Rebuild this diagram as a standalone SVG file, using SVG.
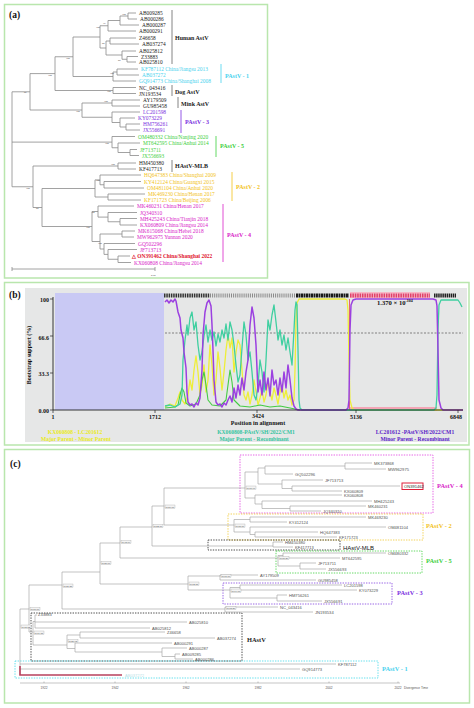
<svg xmlns="http://www.w3.org/2000/svg" width="474" height="708" viewBox="0 0 474 708">
<style>
.panel{fill:#fff;stroke:#b9e6ad;stroke-width:1.5}
.pl{font-family:"Liberation Serif",serif;font-weight:bold;font-size:9.5px;fill:#111}
.tr{fill:none;stroke:#8a8a8a;stroke-width:0.8}
.lf{font-family:"Liberation Serif",serif;font-size:5.4px;fill:#222}
.gl{font-family:"Liberation Serif",serif;font-weight:bold;font-size:6px}
.bs{font-family:"Liberation Serif",serif;font-size:2.6px;fill:#444}
.bt{font-family:"Liberation Serif",serif;font-weight:bold;font-size:6px;fill:#111}
.lg{font-family:"Liberation Serif",serif;font-weight:bold;font-size:5.6px;text-anchor:middle}
.ct{fill:none;stroke:#9a9a9a;stroke-width:0.6}
.cl{font-family:"Liberation Sans",sans-serif;font-size:4.1px;fill:#555}
.nb{fill:#f4f4f4;stroke:#999;stroke-width:0.3}
.nt{font-family:"Liberation Sans",sans-serif;font-size:2.4px;fill:#555}
.db{fill:none;stroke-width:0.8;stroke-dasharray:1.4 1.2}
.cg{font-family:"Liberation Serif",serif;font-weight:bold;font-size:6.4px}
</style>
<rect width="474" height="708" fill="#fff"/>

<!-- ================= PANEL A ================= -->
<g id="panel-a">
<rect class="panel" x="4.5" y="4.5" width="263" height="273.5"/>
<text class="pl" x="9" y="18">(a)</text>
</g>
<g id="tree-a-connectors">
<path class="tr" d="M128 13V19M128 13H136M128 19H137
M120 16V25M120 16H128M120 25H139
M108 20.5V31M108 20.5H120M108 31H136
M110 38V44M110 38H136M110 44H139
M127 56.5V62M127 56.5H138M127 62H136
M122 51V59.25M122 51H136M122 59.25H127
M106 41V55M106 41H110M106 55H122
M100 25.75V48M100 25.75H108M100 48H106
M117 69V75M117 69H138M117 75H139
M113 72V81M113 72H117M113 81H136
M73 37V76.5M73 37H100M73 76.5H113
M113 87.5V93.5M113 87.5H136M113 93.5H136
M55 56.75V90.5M55 56.75H73M55 90.5H113
M112 100V106M112 100H140M112 106H140
M126 124V130M126 124H140M126 130H140
M120 118V127M120 118H135M120 127H126
M112 112V122.5M112 112H140M112 122.5H120
M82 103V117.25M82 103H112M82 117.25H112
M30 73.6V110M30 73.6H55M30 110H82
M130 149.5V155.5M130 149.5H137M130 155.5H139
M118 143V152.5M118 143H140M118 152.5H130
M112 136.5V147.75M112 136.5H135M112 147.75H118
M118 163V169M118 163H136M118 169H136
M104 181.5V188M104 181.5H141M104 188H144
M100 175V184.75M100 175H141M100 184.75H104
M108 194V200M108 194H145M108 200H141
M95 179.9V197M95 179.9H100M95 197H108
M120 218.5V225M120 218.5H137M120 225H137
M108 212.5V221.75M108 212.5H137M108 221.75H120
M98 206V217.1M98 206H134M98 217.1H108
M122 231V237M122 231H135M122 237H134
M118 256V262.5M118 256H130M118 262.5H131
M108 249.5V259.25M108 249.5H137M108 259.25H118
M104 243.5V254.4M104 243.5H135M104 254.4H108
M100 234V249M100 234H122M100 249H104
M92 211.5V241.5M92 211.5H98M92 241.5H100
M42 188.5V226.5M42 188.5H95M42 226.5H92
M33 166V207.5M33 166H118M33 207.5H42
M12 91.8V186.75M12 91.8H30M12 142.1H112M12 186.75H33"/>
<path class="tr" d="M12 269H155M12 267V271M155 267V271"/>
</g>
<g id="tree-a-bootstrap">
<text class="bs" x="122" y="15">100</text><text class="bs" x="103" y="24">76</text><text class="bs" x="96" y="28">100</text>
<text class="bs" x="102" y="44">99</text><text class="bs" x="118" y="61">98</text><text class="bs" x="66" y="59">100</text>
<text class="bs" x="110" y="74">100</text><text class="bs" x="48" y="76">100</text><text class="bs" x="107" y="92">100</text>
<text class="bs" x="24" y="93">86</text><text class="bs" x="104" y="102">100</text><text class="bs" x="76" y="112">100</text>
<text class="bs" x="105" y="144">100</text><text class="bs" x="111" y="165">100</text><text class="bs" x="26" y="189">100</text>
<text class="bs" x="96" y="181">100</text><text class="bs" x="36" y="209">99</text><text class="bs" x="86" y="228">100</text>
<text class="bs" x="92" y="213">94</text><text class="bs" x="98" y="244">100</text>
<text class="bs" x="151" y="276">0.50</text>
</g>
<g id="leaves-a">
<text class="lf" x="139" y="15">AB009285</text>
<text class="lf" x="140" y="21">AB000286</text>
<text class="lf" x="142" y="27">AB000287</text>
<text class="lf" x="139" y="33">AB000291</text>
<text class="lf" x="139" y="40">Z46658</text>
<text class="lf" x="142" y="46">AB037274</text>
<text class="lf" x="139" y="53">AB025812</text>
<text class="lf" x="141" y="58.5">Z33883</text>
<text class="lf" x="139" y="64">AB025810</text>
<g fill="#48d2ee"><text class="lf" style="fill:#48d2ee" x="141" y="71">KF787112 China/Jiangsu 2013</text>
<text class="lf" style="fill:#48d2ee" x="142" y="77">AB037272</text>
<text class="lf" style="fill:#48d2ee" x="139" y="83">GQ914773 China/Shanghai 2008</text></g>
<text class="lf" x="139" y="89.5">NC_043416</text>
<text class="lf" x="139" y="95.5">JN193534</text>
<text class="lf" x="143" y="102">AY179509</text>
<text class="lf" x="143" y="108">GU985458</text>
<text class="lf" style="fill:#7a2ee0" x="143" y="114">LC201598</text>
<text class="lf" style="fill:#7a2ee0" x="138" y="120">KY073229</text>
<text class="lf" style="fill:#7a2ee0" x="143" y="126">HM756261</text>
<text class="lf" style="fill:#7a2ee0" x="143" y="132">JX556691</text>
<text class="lf" style="fill:#3ccf3c" x="138" y="138.5">OM480332 China/Nanjing 2020</text>
<text class="lf" style="fill:#3ccf3c" x="143" y="145">MT642595 China/Anhui 2014</text>
<text class="lf" style="fill:#3ccf3c" x="140" y="151.5">JF713711</text>
<text class="lf" style="fill:#3ccf3c" x="142" y="157.5">JX556693</text>
<text class="lf" x="139" y="165">HM450380</text>
<text class="lf" x="139" y="171">KF417713</text>
<text class="lf" style="fill:#f2c21a" x="144" y="177">HQ647383 China/Shanghai 2009</text>
<text class="lf" style="fill:#f2c21a" x="144" y="183.5">KY412124 China/Guangxi 2015</text>
<text class="lf" style="fill:#f2c21a" x="147" y="190">OM481104 China/Anhui 2020</text>
<text class="lf" style="fill:#f2c21a" x="148" y="196">MK469230 China/Henan 2017</text>
<text class="lf" style="fill:#f2c21a" x="144" y="202">KF171723 China/Beijing 2006</text>
<text class="lf" style="fill:#d822c8" x="137" y="208">MK460231 China/Henan 2017</text>
<text class="lf" style="fill:#d822c8" x="140" y="214.5">JQ340310</text>
<text class="lf" style="fill:#d822c8" x="140" y="220.5">MH425243 China/Tianjin 2018</text>
<text class="lf" style="fill:#d822c8" x="140" y="227">KX060809 China/Jiangsu 2014</text>
<text class="lf" style="fill:#d822c8" x="138" y="233">MK615068 China/Hebei 2018</text>
<text class="lf" style="fill:#d822c8" x="137" y="239">MW962975 Yunnan 2020</text>
<text class="lf" style="fill:#d822c8" x="138" y="245.5">GQ502296</text>
<text class="lf" style="fill:#d822c8" x="140" y="251.5">JF713713</text>
<text class="lf" style="fill:#e0102a;font-weight:bold" x="132" y="258">△ ON391462 China/Shanghai 2022</text>
<text class="lf" style="fill:#d822c8" x="134" y="264.5">KX060808 China/Jiangsu 2014</text>
</g>
<g id="groups-a">
<path d="M172 10V64M172 85V96M178 97V108M172 160V172" stroke="#666" stroke-width="0.8"/>
<path d="M221 64V83" stroke="#48d2ee" stroke-width="0.8"/>
<path d="M181 110V133" stroke="#7a2ee0" stroke-width="0.8"/>
<path d="M216 136V157" stroke="#3ccf3c" stroke-width="0.8"/>
<path d="M232 172V201" stroke="#f2c21a" stroke-width="0.8"/>
<path d="M223 204V262" stroke="#d822c8" stroke-width="0.8"/>
<text class="gl" x="175" y="40" fill="#222">Human AstV</text>
<text class="gl" x="225" y="77.5" fill="#48d2ee">PAstV - 1</text>
<text class="gl" x="175" y="94" fill="#222">Dog AstV</text>
<text class="gl" x="181" y="106" fill="#222">Mink AstV</text>
<text class="gl" x="185" y="124" fill="#7a2ee0">PAstV - 3</text>
<text class="gl" x="220" y="148" fill="#3ccf3c">PAstV - 5</text>
<text class="gl" x="175" y="167.5" fill="#222">HAstV-MLB</text>
<text class="gl" x="236" y="189" fill="#f2c21a">PAstV - 2</text>
<text class="gl" x="227" y="237" fill="#d822c8">PAstV - 4</text>
</g>

<!-- ================= PANEL B ================= -->
<g id="panel-b">
<rect class="panel" x="4.5" y="282.5" width="464.5" height="162.5"/>
<rect x="25" y="288" width="442" height="154" fill="#e6e7e7"/>
<text class="pl" x="9" y="298">(b)</text>
<rect x="55" y="293" width="109" height="117" fill="#c9c9f4"/>
<rect x="350" y="407" width="87" height="4" fill="#f4a6b6"/>
<rect x="350" y="292" width="80" height="6" fill="#f6b8c6"/>
<path d="M164 295.5H210" stroke="#333" stroke-width="4" stroke-dasharray="1.5 0.8"/>
<path d="M210 295.5H296" stroke="#8a8a8a" stroke-width="4" stroke-dasharray="1 1.1"/>
<path d="M296 295.5H349" stroke="#1a1a1a" stroke-width="4" stroke-dasharray="2 0.5"/>
<path d="M350 295.5H430" stroke="#e0406a" stroke-width="4" stroke-dasharray="1.5 0.9"/>
<path d="M434 295.5H456" stroke="#222" stroke-width="4" stroke-dasharray="1.5 0.6"/>
<path d="M165 333H463" stroke="#555" stroke-width="0.7" stroke-dasharray="2 1.5"/>
<path d="M349.5 299V410" stroke="#e04060" stroke-width="0.8"/>
</g>
<g id="curves-b" fill="none" stroke-linejoin="round">
<polyline stroke="#eeee38" stroke-width="1.3" points="165,407 170,404 175,406 178,398 180,392 182,400 185,404 188,395 190,380 192,390 194,370 196,356 198,372 200,395 202,385 204,365 206,392 208,380 210,345 212,365 214,395 216,380 218,352 220,368 222,390 224,372 226,350 228,335 230,348 232,338 234,372 236,352 238,340 240,345 242,370 244,395 246,400 248,392 250,404 252,395 254,380 256,392 258,405 260,398 262,390 264,402 266,395 268,380 270,392 272,400 274,388 276,395 278,404 280,392 282,385 284,398 286,390 288,400 290,395 292,405 294,400 295,370 296,320 297,303 299,299 345,299 347,300 348,310 349,360 350,400 352,408 354,410 463,410"/>
<polyline stroke="#44cc44" stroke-width="1.1" points="165,408 175,407 178,405 180,395 182,388 184,392 186,403 190,406 196,404 200,395 202,380 204,372 206,385 208,400 212,405 220,406 226,400 228,385 230,370 232,382 234,400 240,406 250,407 260,405 270,407 280,406 290,408 300,410"/>
<polyline stroke="#3fcfa0" stroke-width="1.3" points="165,406 170,405 175,407 180,404 182,395 183,360 185,340 187,325 188,335 190,318 192,312 194,330 196,322 198,345 200,360 202,352 204,336 206,325 208,342 210,330 212,340 214,332 216,346 218,334 220,342 222,330 224,338 226,324 228,340 230,322 232,330 234,345 236,365 238,382 240,375 242,348 244,322 246,335 248,360 250,352 252,372 254,395 256,400 258,385 260,360 262,372 264,392 266,360 268,320 270,330 272,315 274,305 276,322 278,340 280,330 282,345 284,335 286,350 288,338 290,352 292,365 294,330 295,310 296,302 297,305 298,350 299,400 300,408 302,410 434,410 436,408 437,395 438,330 439,305 441,300 458,300 460,303 462,307"/>
<polyline stroke="#9b40e0" stroke-width="1.5" points="165,302 167,300 169,303 171,300 173,302 175,299 176,301 178,312 180,318 181,330 183,338 184,352 186,368 187,392 188,402 190,405 192,404 194,407 196,403 198,405 200,398 202,370 203,335 205,312 207,303 209,300 211,306 212,325 213,350 214,380 216,402 218,405 220,404 222,407 224,403 226,405 228,400 230,396 232,402 234,388 236,398 238,385 240,395 242,378 244,390 246,372 248,360 250,325 252,307 254,318 256,345 258,392 260,380 262,395 264,372 266,390 268,378 270,396 272,370 274,385 276,380 278,395 280,378 282,392 284,372 286,388 288,365 290,380 292,398 294,406 296,409 298,410 346,410 348,408 349,400 350,330 351,305 353,300 356,299 433,299 436,300 437,306 438,350 439,400 441,408 443,410 463,410"/>
</g>
<g id="axes-b">
<path d="M53 297V410H463" fill="none" stroke="#222" stroke-width="0.9"/>
<path d="M50 299H53M50 336H53M50 373H53M50 410H53M53 410V413M155 410V413M257 410V413M356 410V413M458 410V413" stroke="#222" stroke-width="0.7"/>
<text class="bt" x="49" y="301.5" text-anchor="end">100</text>
<text class="bt" x="49" y="340" text-anchor="end">66.6</text>
<text class="bt" x="49" y="375.5" text-anchor="end">33.3</text>
<text class="bt" x="49" y="412.5" text-anchor="end">0.00</text>
<text class="bt" x="31" y="355" text-anchor="middle" transform="rotate(-90 31 355)">Bootstrap support (%)</text>
<text class="bt" x="53" y="419" text-anchor="middle">1</text>
<text class="bt" x="155" y="419" text-anchor="middle">1712</text>
<text class="bt" x="258" y="418" text-anchor="middle">3424</text>
<text class="bt" x="356" y="419" text-anchor="middle">5136</text>
<text class="bt" x="456" y="419" text-anchor="middle">6848</text>
<text class="bt" x="258" y="424.5" text-anchor="middle">Position in alignment</text>
<text class="bt" x="377" y="304.5" style="font-size:6.6px">1.370 × 10<tspan dy="-2.5" style="font-size:4px">-104</tspan></text>
</g>
<g id="legend-b">
<text class="lg" x="75" y="434" fill="#eaea20">KX060808 - LC201612</text>
<text class="lg" x="76" y="441" fill="#eaea20">Major Parent - Minor Parent</text>
<text class="lg" x="256" y="434" fill="#34c4a0">KX060808-PAstV/SH/2022/CM1</text>
<text class="lg" x="254" y="441" fill="#34c4a0">Major Parent - Recombinant</text>
<text class="lg" x="415" y="434" fill="#5a22c8">LC201612 -PAstV/SH/2022/CM1</text>
<text class="lg" x="415" y="441" fill="#5a22c8">Minor Parent - Recombinant</text>
</g>

<!-- ================= PANEL C ================= -->
<g id="panel-c">
<rect class="panel" x="4.5" y="449.5" width="465" height="253.5"/>
<text class="pl" x="10" y="467">(c)</text>
</g>
<g id="boxes-c">
<rect class="db" x="240" y="455" width="193" height="58" stroke="#e040e0"/>
<rect class="db" x="228" y="514" width="195" height="26" stroke="#f0c830"/>
<rect class="db" x="208" y="540" width="132" height="10" stroke="#222"/>
<rect class="db" x="276" y="551" width="146" height="22" stroke="#40d040"/>
<rect class="db" x="223" y="583" width="169" height="21" stroke="#8040e0"/>
<rect class="db" x="31" y="613" width="211" height="48" stroke="#222"/>
<rect class="db" x="15" y="661" width="363" height="17" stroke="#40d8e8"/>
<rect x="402" y="483" width="21" height="6.5" fill="none" stroke="#e0203a" stroke-width="1"/>
</g>
<g id="tree-c-connectors">
<path class="ct" d="M20 609V675M20 609H29M20 664H336M20 669H300
M29 585V632M29 585H62M29 632H33
M62 572V609M62 572H100M62 609H225
M100 543V584M100 543H120M100 584H188
M120 527V558M120 527H152M120 558H278
M152 506V546M152 506H164M152 546H273
M164 488V525M164 488H245M164 525H234
M245 472V498M245 472H258M258 468V484M258 468H265M265 466V474M265 466H345M345 463V469M345 463H372M345 469H386M265 474H293
M258 484H282M282 480V488.5M282 480H323M282 488.5H292M292 486V491M292 486H400M292 491H342
M245 498H255M255 495V504M255 495H342M255 504H262M262 501V508.5M262 501H372M262 508.5H290M290 506V511M290 506H366M290 511H321
M234 519.5V532M234 519.5H250M250 517V522M250 517H366M250 522H287M234 532H250M250 527V534.5M250 527H386M250 534.5H255M255 532V537M255 532H318M255 537H337
M273 542V547M273 542H283M273 547H293
M278 555.5V566M278 555.5H283M283 553V558M283 553H386M283 558H340M278 566H300M300 563V569M300 563H316M300 569H326
M188 576V590M188 576H220M188 590H230M220 575V580M220 575H258M220 580H316
M230 587.5V598M230 587.5H240M240 585V590M240 585H342M240 590H357M230 598H277M277 595V601M277 595H287M277 601H322
M225 607V612M225 607H278M225 612H313
M33 621.5V645M33 621.5H35M35 615V628M35 615H37M35 622H187M35 628H150M33 645H67
M67 635V648.5M67 635H80M67 648.5H75M80 632V638M80 632H165M80 638H215
M75 643V652M75 643H172M75 652H162M162 648V656.5M162 648H187M162 656.5H175M175 654V659M175 654H180M175 659H193"/>
<path d="M20 666V675H122" fill="none" stroke="#b8425e" stroke-width="1.6"/>
</g>
<g id="node-ages-c">
<rect class="nb" x="21" y="625" width="10" height="3.2"/><text class="nt" x="21.5" y="627.5">1915.52</text>
<rect class="nb" x="30" y="607.5" width="10" height="3.2"/><text class="nt" x="30.5" y="610">1918.06</text>
<rect class="nb" x="63" y="584" width="10" height="3.2"/><text class="nt" x="63.5" y="586.5">1927.35</text>
<rect class="nb" x="101" y="561.5" width="10" height="3.2"/><text class="nt" x="101.5" y="564">1938.06</text>
<rect class="nb" x="121" y="540.5" width="10" height="3.2"/><text class="nt" x="121.5" y="543">1943.69</text>
<rect class="nb" x="153" y="524.5" width="10" height="3.2"/><text class="nt" x="153.5" y="527">1952.70</text>
<rect class="nb" x="165" y="505" width="10" height="3.2"/><text class="nt" x="165.5" y="507.5">1956.08</text>
<rect class="nb" x="246" y="486" width="10" height="3.2"/><text class="nt" x="246.5" y="488.5">1978.90</text>
<rect class="nb" x="235" y="524" width="10" height="3.2"/><text class="nt" x="235.5" y="526.5">1975.80</text>
<rect class="nb" x="279" y="556.5" width="10" height="3.2"/><text class="nt" x="279.5" y="559">1988.20</text>
<rect class="nb" x="189" y="582" width="10" height="3.2"/><text class="nt" x="189.5" y="584.5">1962.85</text>
<rect class="nb" x="221" y="574.5" width="10" height="3.2"/><text class="nt" x="221.5" y="577">1971.86</text>
<rect class="nb" x="231" y="589" width="10" height="3.2"/><text class="nt" x="231.5" y="591.5">1974.68</text>
<rect class="nb" x="226" y="606.5" width="10" height="3.2"/><text class="nt" x="226.5" y="609">1973.27</text>
<rect class="nb" x="34" y="631" width="10" height="3.2"/><text class="nt" x="34.5" y="633.5">1919.15</text>
<rect class="nb" x="68" y="639.5" width="10" height="3.2"/><text class="nt" x="68.5" y="642">1928.93</text>
</g>
<g id="leaves-c">
<text class="cl" x="374" y="464.5">MK373868</text>
<text class="cl" x="388" y="470.5">MW962975</text>
<text class="cl" x="295" y="475.5">GQ502296</text>
<text class="cl" x="325" y="481.5">JF713713</text>
<text class="cl" x="404" y="487.5" style="fill:#333">ON391462</text>
<text class="cl" x="344" y="492.5">KX060809</text>
<text class="cl" x="344" y="496.5">KX060808</text>
<text class="cl" x="374" y="502.5">MH425243</text>
<text class="cl" x="368" y="507.5">MK460231</text>
<text class="cl" x="323" y="512.5">JQ340310</text>
<text class="cl" x="368" y="518.5">MK469230</text>
<text class="cl" x="289" y="523.5">KY412124</text>
<text class="cl" x="388" y="528.5">OM481104</text>
<text class="cl" x="320" y="533.5">HQ647383</text>
<text class="cl" x="339" y="538.5">KF171723</text>
<text class="cl" x="285" y="543.5">HM450380</text>
<text class="cl" x="295" y="548.5">KF417713</text>
<text class="cl" x="388" y="554.5">OM480332</text>
<text class="cl" x="342" y="559.5">MT642595</text>
<text class="cl" x="318" y="564.5">JF713711</text>
<text class="cl" x="328" y="570.5">JX556693</text>
<text class="cl" x="260" y="576.5">AY179509</text>
<text class="cl" x="318" y="581.5">GU985458</text>
<text class="cl" x="344" y="586.5">LC201598</text>
<text class="cl" x="359" y="591.5">KY073229</text>
<text class="cl" x="289" y="596.5">HM756261</text>
<text class="cl" x="324" y="602.5">JX556691</text>
<text class="cl" x="280" y="608.5">NC_043416</text>
<text class="cl" x="315" y="613.5">JN193534</text>
<text class="cl" x="38" y="616">Z33883</text>
<text class="cl" x="189" y="623.5">AB025810</text>
<text class="cl" x="152" y="629.5">AB025812</text>
<text class="cl" x="167" y="633.5">Z46658</text>
<text class="cl" x="217" y="639.5">AB037274</text>
<text class="cl" x="174" y="644.5">AB000291</text>
<text class="cl" x="189" y="649.5">AB000287</text>
<text class="cl" x="182" y="655.5">AB009285</text>
<text class="cl" x="195" y="660.5">AB000286</text>
<text class="cl" x="338" y="665.5">KF787112</text>
<text class="cl" x="302" y="670.5">GQ914773</text>
<text class="cl" x="125" y="676.5" style="fill:#b8dfe8">AB037272</text>
</g>
<g id="groups-c">
<text class="cg" x="437" y="488" fill="#d822c8">PAstV - 4</text>
<text class="cg" x="426" y="528" fill="#f2c21a">PAstV - 2</text>
<text x="343" y="549.5" style="font-family:'Liberation Sans',sans-serif;font-size:6px;fill:#111">HAstV-MLB</text>
<text class="cg" x="426" y="563" fill="#3ccf3c">PAstV - 5</text>
<text class="cg" x="397" y="595" fill="#7a2ee0">PAstV - 3</text>
<text class="cg" x="247" y="642" fill="#222">HAstV</text>
<text class="cg" x="382" y="671" fill="#48d2ee">PAstV - 1</text>
</g>
<g id="axis-c">
<path d="M20 683H400M44 681.5V683M115 681.5V683M186 681.5V683M258 681.5V683M329 681.5V683M398 681.5V683" stroke="#888" stroke-width="0.5"/>
<g class="nt" style="font-size:3.2px" text-anchor="middle">
<text x="44" y="689">1922</text><text x="115" y="689">1942</text><text x="186" y="689">1962</text>
<text x="258" y="689">1982</text><text x="329" y="689">2002</text><text x="398" y="689">2022</text>
</g>
<text class="nt" style="font-size:3.2px" x="404" y="689">Divergence Time</text>
</g>
</svg>
